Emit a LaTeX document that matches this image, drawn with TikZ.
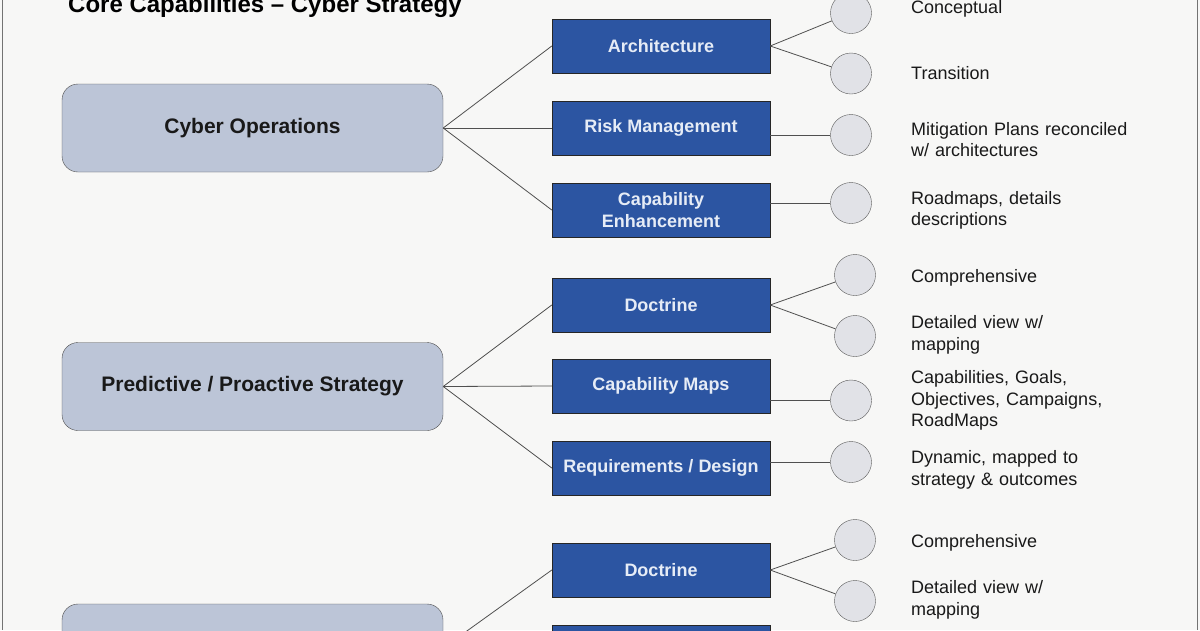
\documentclass[tikz,border=0pt]{standalone}
\usepackage{fontspec}
\setmainfont{Liberation Sans}
\usetikzlibrary{calc}

\definecolor{bg}{HTML}{F7F7F6}
\definecolor{corefill}{HTML}{BCC5D7}
\definecolor{boxblue}{HTML}{2C55A2}
\definecolor{boxtext}{HTML}{E6ECF6}
\definecolor{dotfill}{HTML}{E1E2E7}
\definecolor{linegray}{HTML}{505050}

\begin{document}
\begin{tikzpicture}[x=1pt,y=-1pt,
		corebox/.style={draw=black!70,fill=corefill,rounded corners=16pt,minimum width=381pt,minimum height=88pt,inner sep=0pt,text=black!90,font=\fontsize{21}{24}\selectfont\bfseries},
		capbox/.style={draw=black!85,fill=boxblue,minimum width=218pt,minimum height=54pt,inner sep=0pt,align=center,text=boxtext,font=\fontsize{18}{22}\selectfont\bfseries},
		ball/.style={circle,draw=black!65,fill=dotfill,minimum size=41pt,inner sep=0pt},
		lbl/.style={anchor=base west,inner sep=0pt,text width=270pt,align=left,text=black!90,font=\fontsize{18}{21.7}\selectfont},
		link/.style={draw=linegray,line width=0.8pt}]
			\fill[bg] (0,0) rectangle (1200,630);
			\useasboundingbox (0,0) rectangle (1200,630);
			\clip (0,0) rectangle (1200,630);
			\draw[black!55,line width=1pt] (2,0) -- (2,630);
			\draw[black!55,line width=1pt] (1197.5,0) -- (1197.5,630);
			
			\node[anchor=base west,inner sep=0pt,font=\fontsize{24}{27}\selectfont\bfseries] (title) at (68,12.5) {Core Capabilities -- Cyber Strategy};
			
			\node[corebox] (CO) at (252.5,128) {Cyber Operations};
			\node[capbox] (Arch) at (661,46) {Architecture};
			\node[capbox] (Risk) at (661,128) {Risk Management};
			\node[capbox] (CapE) at (661,210) {Capability\\Enhancement};
			
			\node[ball] (c1) at (851,13) {};
			\node[ball] (c2) at (851,73.5) {};
			\node[ball] (c3) at (851,135) {};
			\node[ball] (c4) at (851,203) {};
			
			\node[lbl] (t1) at (911,13) {Conceptual};
			\node[lbl] (t2) at (911,79) {Transition};
			\node[lbl] (t3) at (911,135) {Mitigation Plans reconciled\\w/ architectures};
			\node[lbl] (t4) at (911,204) {Roadmaps, details\\descriptions};
			
			\draw[link] (CO.east) to (Arch.west);
			\draw[link] (CO.east) to (Risk.west);
			\draw[link] (CO.east) to (CapE.west);
			\draw[link] (Arch.east) to (c1);
			\draw[link] (Arch.east) to (c2);
			\draw[link] (Risk.east |- c3) to (c3);
			\draw[link] (CapE.east |- c4) to (c4);
			
			\node[corebox] (PS) at (252.5,386.5) {Predictive / Proactive Strategy};
			\node[capbox] (Doc) at (661,305) {Doctrine};
			\node[capbox] (CapM) at (661,386) {Capability Maps};
			\node[capbox] (Req) at (661,468) {Requirements / Design};
			
			\node[ball] (c5) at (855,275) {};
			\node[ball] (c6) at (855,336) {};
			\node[ball] (c7) at (851,400.5) {};
			\node[ball] (c8) at (851,462) {};
			
			\node[lbl] (t5) at (911,282) {Comprehensive};
			\node[lbl] (t6) at (911,328.5) {Detailed view w/\\mapping};
			\node[lbl] (t7) at (911,383.5) {Capabilities, Goals,\\Objectives, Campaigns,\\RoadMaps};
			\node[lbl] (t8) at (911,463.5) {Dynamic, mapped to\\strategy \& outcomes};
			
			\draw[link] (PS.east) to (Doc.west);
			\draw[link] (PS.east) to (CapM.west);
			\draw[link] (PS.east) to (Req.west);
			\draw[link] (Doc.east) to (c5);
			\draw[link] (Doc.east) to (c6);
			\draw[link] (CapM.east |- c7) to (c7);
			\draw[link] (Req.east |- c8) to (c8);
			
			\node[corebox] (NX) at (252.5,648) {};
			\node[capbox] (Doc2) at (661,570) {Doctrine};
			\node[capbox] (Nxt) at (661,652) {};
			
			\node[ball] (c9) at (855,540) {};
			\node[ball] (c10) at (855,601) {};
			
			\node[lbl] (t9) at (911,547) {Comprehensive};
			\node[lbl] (t10) at (911,593.5) {Detailed view w/\\mapping};
			
			\draw[link] (NX.east) to (Doc2.west);
			\draw[link] (NX.east) to (Nxt.west);
			\draw[link] (Doc2.east) to (c9);
			\draw[link] (Doc2.east) to (c10);
		\end{tikzpicture}
\end{document}
